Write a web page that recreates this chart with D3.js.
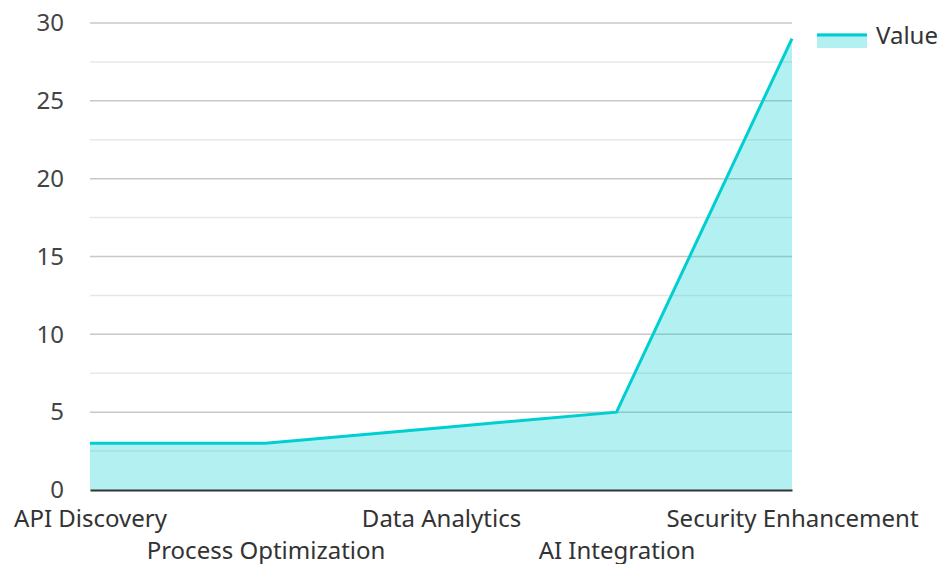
<!DOCTYPE html>
<html>
<head>
<meta charset="utf-8">
<script src="https://cdn.jsdelivr.net/npm/d3@7"></script>
<style>
  body { margin: 0; background: #fff; }
  text { font-family: "Noto Sans", sans-serif; }
</style>
</head>
<body>
<div class="chart"></div>
<script>
// chart data
let categories = ["API Discovery", "Process Optimization", "Data Analytics", "AI Integration", "Security Enhancement"];
let values = [3, 3, 4, 5, 29];
let yTicks = [0, 5, 10, 15, 20, 25, 30];
let seriesName = "Value";

let w = 942;
let h = 564;
let margin = {top: 23, right: 150, bottom: 74, left: 90};

let svg = d3.select(".chart")
    .append("svg")
    .attr("width", w)
    .attr("height", h);

let x = d3.scalePoint()
    .domain(categories)
    .range([margin.left, w - margin.right]);

let y = d3.scaleLinear()
    .domain([0, 30])
    .range([h - margin.bottom, margin.top]);

let data = categories.map(function(c, i) { return {cat: c, v: values[i]}; });

// minor grid lines
svg.append("g")
    .selectAll("line")
    .data(d3.range(2.5, 30, 5))
    .enter().append("line")
    .attr("x1", margin.left)
    .attr("x2", w - margin.right)
    .attr("y1", function(d) { return y(d); })
    .attr("y2", function(d) { return y(d); })
    .attr("stroke", "#e8e8e8")
    .attr("stroke-width", 1.5);

// major grid lines
svg.append("g")
    .selectAll("line")
    .data(yTicks.slice(1))
    .enter().append("line")
    .attr("x1", margin.left)
    .attr("x2", w - margin.right)
    .attr("y1", function(d) { return y(d); })
    .attr("y2", function(d) { return y(d); })
    .attr("stroke", "#c8c8c8")
    .attr("stroke-width", 1.5);

let area = d3.area()
    .x(function(d) { return x(d.cat); })
    .y0(y(0))
    .y1(function(d) { return y(d.v); });

let line = d3.line()
    .x(function(d) { return x(d.cat); })
    .y(function(d) { return y(d.v); });

svg.append("path")
    .datum(data)
    .attr("d", area)
    .attr("fill", "#00ced1")
    .attr("fill-opacity", 0.3);

svg.append("path")
    .datum(data)
    .attr("d", line)
    .attr("fill", "none")
    .attr("stroke", "#00ced1")
    .attr("stroke-width", 3);

// y axis labels
let yAxis = svg.append("g")
    .attr("transform", "translate(" + margin.left + ",0)")
    .call(d3.axisLeft(y).tickValues(yTicks).tickSize(0).tickPadding(26));
yAxis.select(".domain").remove();
yAxis.selectAll("text")
    .attr("font-size", 24)
    .attr("font-family", "Noto Sans")
    .attr("fill", "#444");

// x axis
let xAxis = svg.append("g")
    .attr("transform", "translate(0," + y(0) + ")")
    .call(d3.axisBottom(x).tickSize(0).tickPadding(20));
xAxis.select(".domain")
    .attr("stroke", "#333")
    .attr("stroke-width", 2);
xAxis.selectAll("text")
    .attr("font-size", 24)
    .attr("font-family", "Noto Sans")
    .attr("fill", "#333")
    .attr("dy", function(d, i) { return i % 2 ? "2.04em" : "0.71em"; });

// legend
let legend = svg.append("g").attr("transform", "translate(817,33)");
legend.append("rect")
    .attr("width", 50)
    .attr("height", 15)
    .attr("fill", "#00ced1")
    .attr("fill-opacity", 0.3);
legend.append("line")
    .attr("x1", 0).attr("x2", 50)
    .attr("y1", 2).attr("y2", 2)
    .attr("stroke", "#00ced1")
    .attr("stroke-width", 3);
legend.append("text")
    .attr("x", 59)
    .attr("y", 11)
    .attr("font-size", 24)
    .attr("fill", "#333")
    .text(seriesName);
</script>
</body>
</html>
